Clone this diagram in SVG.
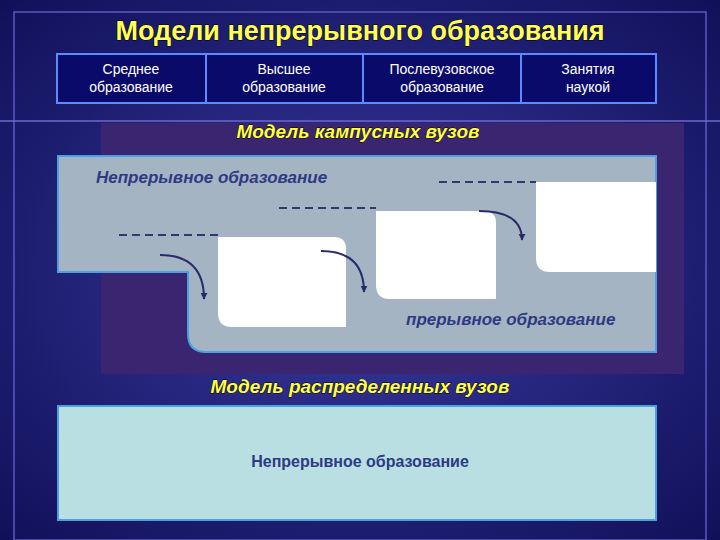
<svg xmlns="http://www.w3.org/2000/svg" width="720" height="540" viewBox="0 0 720 540">
<defs>
<radialGradient id="bg" cx="0.5" cy="0.5" r="0.7"><stop offset="0" stop-color="#3a3aa0"/><stop offset="1" stop-color="#10105a"/></radialGradient>
<marker id="ah" viewBox="0 0 10 10" refX="9" refY="5" markerWidth="7" markerHeight="7" orient="auto" markerUnits="userSpaceOnUse"><path d="M0,0 L10,5 L0,10 Z" fill="#2a2a6a"/></marker>
</defs>
<style>
.t{font-family:"Liberation Sans",Arial,sans-serif}
.hdr{fill:#fff;font-size:14px;text-anchor:middle}
.y{fill:#ffff44;font-weight:bold;font-style:italic;font-size:19px;text-anchor:middle;stroke:#000;stroke-width:0.8;paint-order:stroke}
.blue{fill:#2e3a84;font-style:italic;font-weight:bold;font-size:17px}
.dash{stroke:#2e3a6a;stroke-width:2;stroke-dasharray:8,5;fill:none}
.arr{stroke:#2a2a6a;stroke-width:2;fill:none;marker-end:url(#ah)}
</style>
<rect width="720" height="540" fill="url(#bg)"/>
<rect x="14" y="12" width="692" height="528" fill="none" stroke="#5a5ac0" stroke-width="1.5"/>
<line x1="0" y1="121" x2="720" y2="121" stroke="#6a6ad0" stroke-width="1.5"/>
<text class="t" x="360" y="40" font-size="27" font-weight="bold" fill="#ffff55" text-anchor="middle" stroke="#000" stroke-width="1" paint-order="stroke">Модели непрерывного образования</text>
<g id="header">
<rect x="57" y="54" width="599" height="49" fill="#0a0a6a" stroke="#5a8cff" stroke-width="2"/>
<line x1="206" y1="54" x2="206" y2="103" stroke="#5a8cff" stroke-width="2"/>
<line x1="363" y1="54" x2="363" y2="103" stroke="#5a8cff" stroke-width="2"/>
<line x1="521" y1="54" x2="521" y2="103" stroke="#5a8cff" stroke-width="2"/>
<text class="t hdr" x="131" y="74">Среднее</text><text class="t hdr" x="131" y="92">образование</text>
<text class="t hdr" x="284" y="74">Высшее</text><text class="t hdr" x="284" y="92">образование</text>
<text class="t hdr" x="442" y="74">Послевузовское</text><text class="t hdr" x="442" y="92">образование</text>
<text class="t hdr" x="588" y="74">Занятия</text><text class="t hdr" x="588" y="92">наукой</text>
</g>
<g id="campus">
<rect x="101" y="123" width="583" height="251" fill="#3a2670"/>
<text class="t y" x="358" y="138">Модель кампусных вузов</text>
<path d="M58,156 H656 V352 H206 Q188,352 188,334 V272 H58 Z" fill="#a4b4c2" stroke="#4aa0e0" stroke-width="2"/>
<path d="M218,237 H334 Q346,237 346,249 V327 H232 Q218,327 218,313 Z" fill="#fff"/>
<path d="M376,211 H484 Q496,211 496,223 V299 H390 Q376,299 376,285 Z" fill="#fff"/>
<path d="M536,182 H656 V272 H550 Q536,272 536,258 Z" fill="#fff"/>
<text class="t blue" x="96" y="183">Непрерывное образование</text>
<text class="t blue" x="406" y="325">прерывное образование</text>
</g>
<g id="connectors">
<line class="dash" x1="119" y1="235" x2="218" y2="235"/>
<line class="dash" x1="279" y1="208" x2="376" y2="208"/>
<line class="dash" x1="439" y1="182" x2="536" y2="182"/>
<path class="arr" d="M160,255 Q204,255 204,299"/>
<path class="arr" d="M321,251 Q364,251 364,292"/>
<path class="arr" d="M479,211 Q522,211 522,240"/>
</g>
<g id="distributed">
<text class="t y" x="360" y="393">Модель распределенных вузов</text>
<rect x="58" y="406" width="598" height="114" fill="#b9dfe3" stroke="#4aa0e0" stroke-width="2"/>
<text class="t" x="360" y="467" font-size="16" font-weight="bold" fill="#2e3a84" text-anchor="middle">Непрерывное образование</text>
</g>
</svg>
